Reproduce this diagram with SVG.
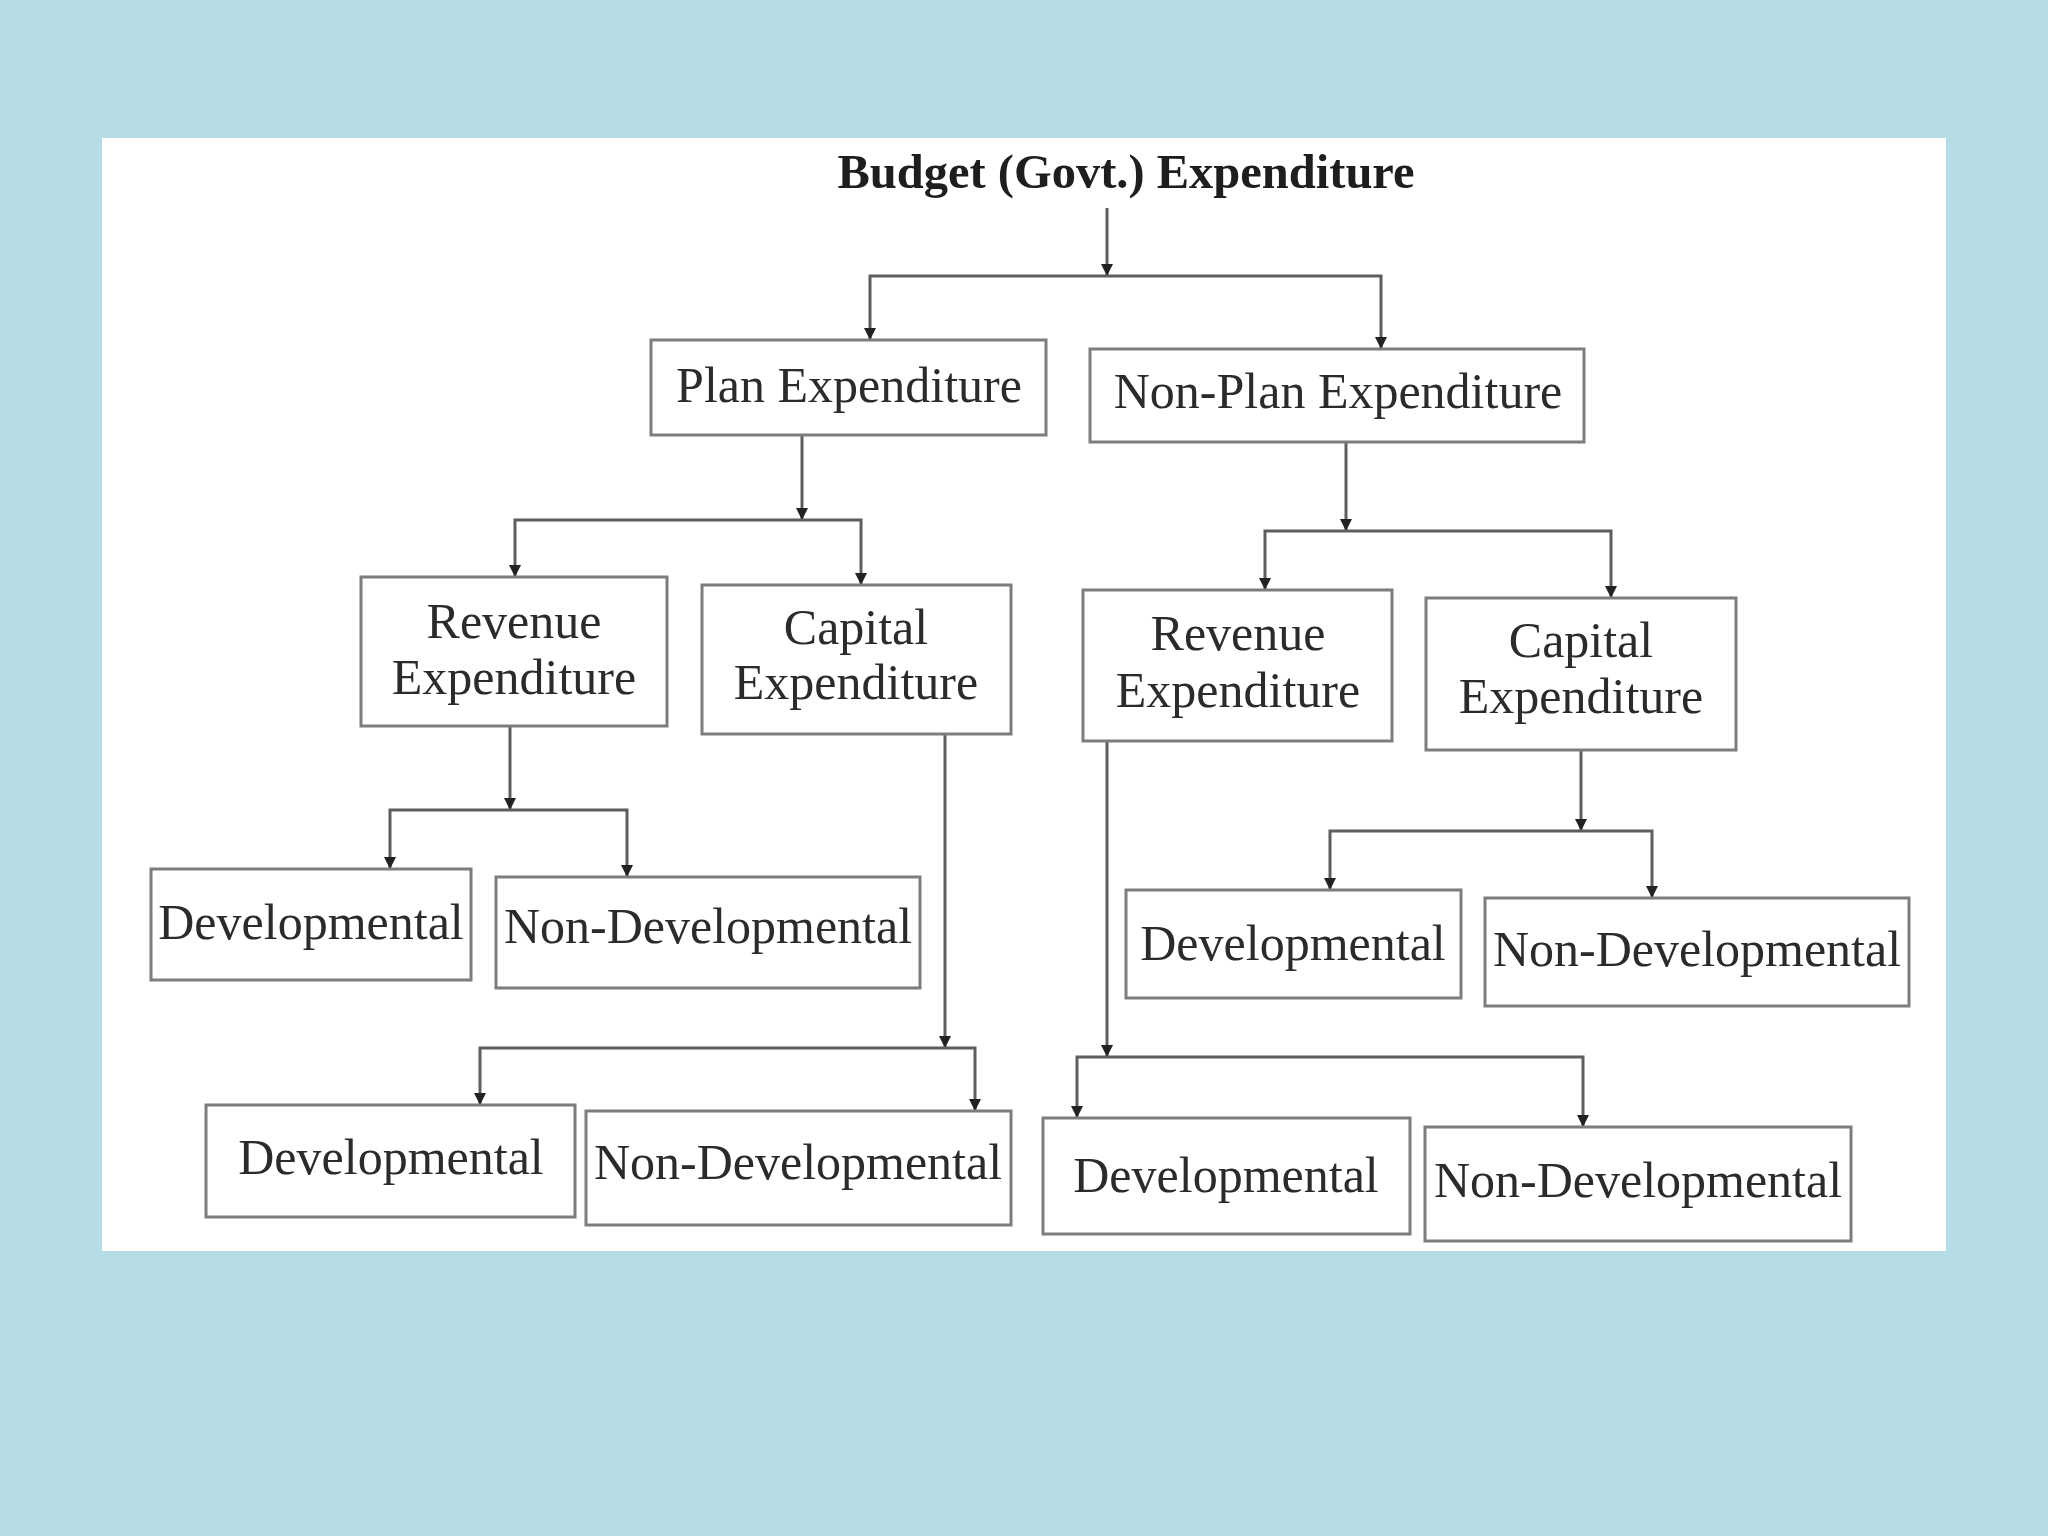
<svg xmlns="http://www.w3.org/2000/svg" width="2048" height="1536" viewBox="0 0 2048 1536">
<style>
.box{fill:#ffffff;stroke:#7d7d7d;stroke-width:3}
.t{font-family:"Liberation Serif","Times New Roman",serif;font-size:50px;fill:#2b2b2b;text-anchor:middle}
.title{font-family:"Liberation Serif","Times New Roman",serif;font-size:48.5px;font-weight:bold;fill:#1e1e1e;text-anchor:middle}
.c{fill:none;stroke:#5e5e5e;stroke-width:3}
</style>
<defs>
<marker id="arr" viewBox="0 0 10 10" refX="10" refY="5" markerWidth="13" markerHeight="12" markerUnits="userSpaceOnUse" orient="auto">
<path d="M0,0 L10,5 L0,10 z" fill="#222"/>
</marker>
</defs>
<rect x="0" y="0" width="2048" height="1536" fill="#b6dde6"/>
<rect x="102" y="138" width="1844" height="1113" fill="#ffffff"/>
<g id="title"><text class="title" x="1126" y="188">Budget (Govt.) Expenditure</text></g>
<g id="connectors">
<path class="c" d="M1107,208 V276" marker-end="url(#arr)"/>
<path class="c" d="M1107,276 H870 V340" marker-end="url(#arr)"/>
<path class="c" d="M1107,276 H1381 V349" marker-end="url(#arr)"/>
<path class="c" d="M802,435 V520" marker-end="url(#arr)"/>
<path class="c" d="M802,520 H515 V577" marker-end="url(#arr)"/>
<path class="c" d="M802,520 H861 V585" marker-end="url(#arr)"/>
<path class="c" d="M510,726 V810" marker-end="url(#arr)"/>
<path class="c" d="M510,810 H390 V869" marker-end="url(#arr)"/>
<path class="c" d="M510,810 H627 V877" marker-end="url(#arr)"/>
<path class="c" d="M945,734 V1048" marker-end="url(#arr)"/>
<path class="c" d="M945,1048 H480 V1105" marker-end="url(#arr)"/>
<path class="c" d="M945,1048 H975 V1111" marker-end="url(#arr)"/>
<path class="c" d="M1346,442 V531" marker-end="url(#arr)"/>
<path class="c" d="M1346,531 H1265 V590" marker-end="url(#arr)"/>
<path class="c" d="M1346,531 H1611 V598" marker-end="url(#arr)"/>
<path class="c" d="M1581,750 V831" marker-end="url(#arr)"/>
<path class="c" d="M1581,831 H1330 V890" marker-end="url(#arr)"/>
<path class="c" d="M1581,831 H1652 V898" marker-end="url(#arr)"/>
<path class="c" d="M1107,741 V1057" marker-end="url(#arr)"/>
<path class="c" d="M1107,1057 H1077 V1118" marker-end="url(#arr)"/>
<path class="c" d="M1107,1057 H1583 V1127" marker-end="url(#arr)"/>
</g>
<g id="plan"><rect class="box" x="651" y="340" width="395" height="95"/><text class="t" x="849" y="402">Plan Expenditure</text></g>
<g id="nonplan"><rect class="box" x="1090" y="349" width="494" height="93"/><text class="t" x="1338" y="408">Non-Plan Expenditure</text></g>
<g id="revL"><rect class="box" x="361" y="577" width="306" height="149"/><text class="t" x="514" y="638">Revenue</text><text class="t" x="514" y="694">Expenditure</text></g>
<g id="capL"><rect class="box" x="702" y="585" width="309" height="149"/><text class="t" x="856" y="644">Capital</text><text class="t" x="856" y="699">Expenditure</text></g>
<g id="revR"><rect class="box" x="1083" y="590" width="309" height="151"/><text class="t" x="1238" y="650">Revenue</text><text class="t" x="1238" y="707">Expenditure</text></g>
<g id="capR"><rect class="box" x="1426" y="598" width="310" height="152"/><text class="t" x="1581" y="657">Capital</text><text class="t" x="1581" y="713">Expenditure</text></g>
<g id="devL"><rect class="box" x="151" y="869" width="320" height="111"/><text class="t" x="311" y="939">Developmental</text></g>
<g id="nondevL"><rect class="box" x="496" y="877" width="424" height="111"/><text class="t" x="708" y="943">Non-Developmental</text></g>
<g id="devR"><rect class="box" x="1126" y="890" width="335" height="108"/><text class="t" x="1293" y="960">Developmental</text></g>
<g id="nondevR"><rect class="box" x="1485" y="898" width="424" height="108"/><text class="t" x="1697" y="966">Non-Developmental</text></g>
<g id="devB1"><rect class="box" x="206" y="1105" width="369" height="112"/><text class="t" x="391" y="1174">Developmental</text></g>
<g id="nondevB2"><rect class="box" x="586" y="1111" width="425" height="114"/><text class="t" x="798" y="1179">Non-Developmental</text></g>
<g id="devB3"><rect class="box" x="1043" y="1118" width="367" height="116"/><text class="t" x="1226" y="1192">Developmental</text></g>
<g id="nondevB4"><rect class="box" x="1425" y="1127" width="426" height="114"/><text class="t" x="1638" y="1197">Non-Developmental</text></g>
</svg>
